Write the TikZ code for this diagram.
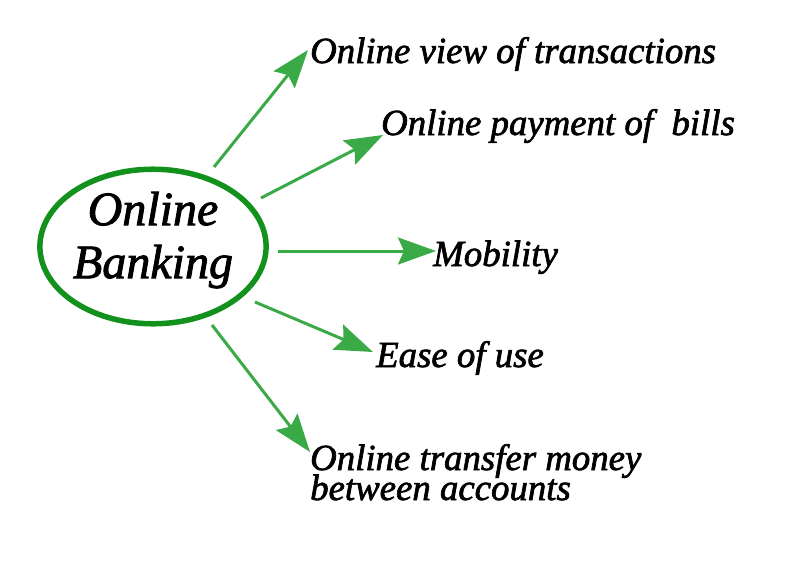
\documentclass[tikz,border=0pt]{standalone}
\usepackage{fontspec}
\setmainfont{Liberation Serif}
\newfontface\heavyital{Liberation Serif Italic}[FakeBold=1.8]
\usetikzlibrary{shapes.geometric,arrows.meta}
\definecolor{ringgreen}{RGB}{18,145,28}
\definecolor{arrowgreen}{RGB}{58,170,70}
\newcommand\tightlinesskip{\lineskiplimit=-100pt\relax}
\begin{document}
\begin{tikzpicture}[x=1pt,y=-1pt,
  hub/.style={ellipse, draw=ringgreen, line width=5.5pt, minimum width=226pt, minimum height=151pt, inner sep=0pt, align=center, font=\fontsize{48}{53}\selectfont\heavyital},
  item/.style={anchor=base west, inner sep=0pt, align=left, font=\fontsize{36.8}{30}\selectfont\heavyital\tightlinesskip},
  link/.style={draw=arrowgreen, line width=3pt, -{Stealth[length=38pt,width=27pt,inset=6pt]}}]
\fill[white] (0,0) rectangle (800,562);
\useasboundingbox (0,0) rectangle (800,562);

\node[hub] (hub) at (153,246.5) {Online\\Banking\rule[-23pt]{0pt}{0pt}};

\node[item] (l1) at (310,63) {Online view of transactions};
\node[item] (l2) at (381,135) {Online payment of \ bills};
\node[item] (l3) at (433,266) {Mobility};
\node[item] (l4) at (376,367) {Ease of use};
\node[item] (l5) at (310,500) {Online transfer money\\between accounts};

\coordinate (s1) at (214,167); \coordinate (t1) at (308,50);
\coordinate (s2) at (261,198); \coordinate (t2) at (383,135);
\coordinate (s3) at (278,251); \coordinate (t3) at (436,251);
\coordinate (s4) at (255,302); \coordinate (t4) at (373,352);
\coordinate (s5) at (212,325); \coordinate (t5) at (310,452);

\draw[link] (s1) -- (t1);
\draw[link] (s2) -- (t2);
\draw[link] (s3) -- (t3);
\draw[link] (s4) -- (t4);
\draw[link] (s5) -- (t5);
\end{tikzpicture}
\end{document}
